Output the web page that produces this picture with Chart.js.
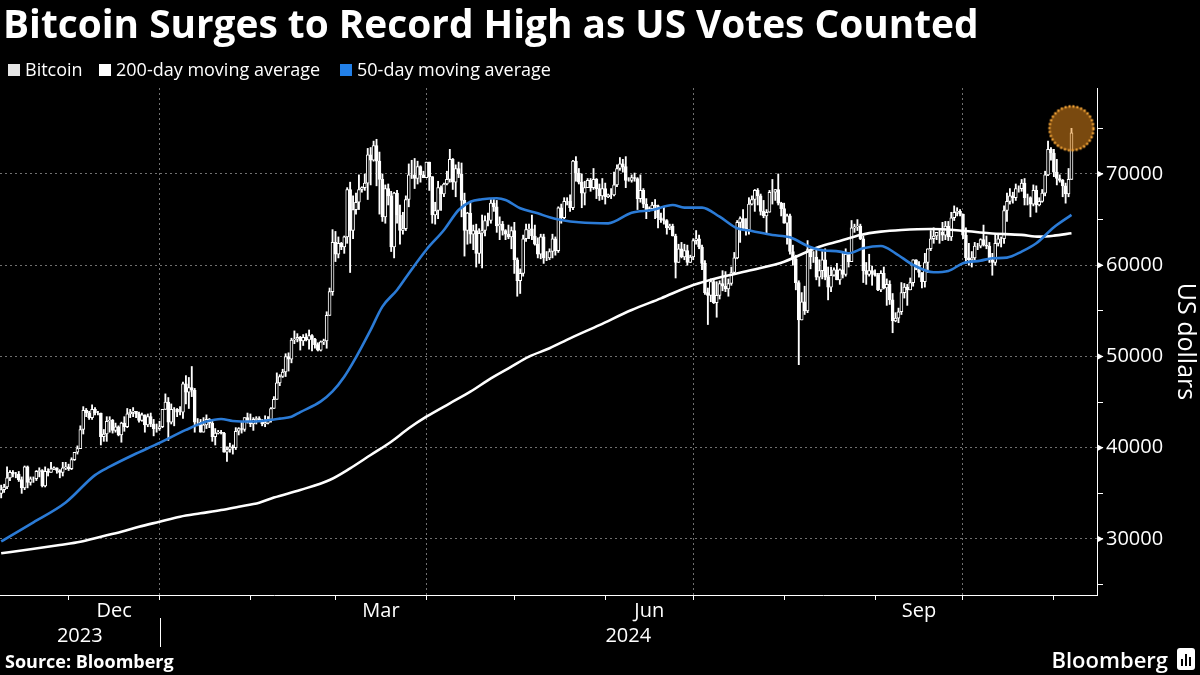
<!DOCTYPE html>
<html>
<head>
<meta charset="utf-8">
<title>Bitcoin Surges to Record High as US Votes Counted</title>
<script src="https://cdn.jsdelivr.net/npm/chart.js@4.4.1/dist/chart.umd.min.js"></script>
<style>
  html, body { margin:0; padding:0; background:#000; }
  #frame { position:relative; width:1200px; height:675px; background:#000; overflow:hidden; color:#fff;
           font-family:"Open Sans","Noto Sans",sans-serif; }
  #c { position:absolute; left:0; top:0; }
  #title { position:absolute; left:3px; top:4px; font-weight:700; font-size:38.8px; line-height:1; white-space:nowrap; }
  .lg { position:absolute; top:60px; font-size:18px; line-height:1; white-space:nowrap; display:flex; align-items:center; }
  .sw { display:inline-block; width:12px; height:12px; margin-right:5px; position:relative; top:1px; }
  #source { position:absolute; left:5px; top:652px; font-weight:700; font-size:18px; line-height:1; white-space:nowrap; }
  #brand { position:absolute; right:5px; top:648px; display:flex; align-items:center; font-weight:600; font-size:22px; line-height:1; }
  #brand svg { margin-left:9px; }
</style>
</head>
<body>
<div id="frame">
  <canvas id="c" width="1200" height="675"></canvas>
  <div id="title">Bitcoin Surges to Record High as US Votes Counted</div>
  <div class="lg" style="left:8px"><span class="sw" style="background:#e6e6e6"></span>Bitcoin</div>
  <div class="lg" style="left:99px"><span class="sw" style="background:#ffffff"></span>200-day moving average</div>
  <div class="lg" style="left:340px"><span class="sw" style="background:#2280e8"></span>50-day moving average</div>
  <div id="source">Source: Bloomberg</div>
  <div id="brand">Bloomberg<svg width="18" height="22" viewBox="0 0 18 22"><rect x="0" y="0" width="18" height="22" rx="3" fill="#fff"/><rect x="4" y="11" width="2" height="7" fill="#000"/><rect x="8" y="6" width="2" height="12" fill="#000"/><rect x="12" y="9" width="2" height="9" fill="#000"/></svg></div>
</div>
<script>
// ---------------- DATA ----------------
// Daily Bitcoin candles, one per calendar day starting at this date (thousand US dollars)
const START_DATE = '2023-11-07';
const opens_k = [
  35.0,35.4,35.7,36.7,37.3,37.1,37.1,36.5,35.6,37.9,36.2,36.6,36.6,37.4,37.5,35.8,37.4,37.3,37.7,37.8,37.5,37.3,37.8,37.9,
  37.7,38.7,39.5,39.9,42.0,44.1,43.8,43.3,44.2,43.8,43.8,41.2,41.5,42.9,43.0,41.9,42.3,41.4,42.7,42.3,43.7,43.9,44.0,43.7,43.0,43.6,42.5,43.4,42.6,42.1,42.1,
  42.3,44.2,45.0,42.8,44.2,44.2,43.9,43.9,47.0,46.1,46.6,46.3,42.8,42.8,41.7,42.5,43.1,42.7,41.2,41.6,41.7,41.6,39.5,39.8,40.1,40.0,41.8,42.1,42.0,43.3,42.9,
  42.6,43.1,43.2,43.0,42.6,42.7,43.1,44.3,45.3,47.1,47.8,48.3,50.0,49.7,51.8,51.9,52.1,51.7,52.1,51.8,52.3,51.9,51.3,50.7,51.6,51.7,54.5,57.1,62.5,
  61.2,62.4,62.0,63.1,68.3,63.8,66.1,66.9,68.3,68.5,69.0,72.1,71.5,73.1,71.4,69.4,65.3,68.4,67.6,62.0,67.9,65.5,63.8,64.0,67.2,69.9,69.9,69.5,70.8,69.9,69.6,
  71.3,69.7,65.5,66.0,68.5,67.8,68.9,69.4,71.6,69.1,70.6,70.0,67.1,63.8,65.7,63.4,63.8,61.3,63.5,63.8,64.9,64.9,66.8,66.4,64.3,64.5,63.8,63.4,63.1,63.8,
  60.6,58.3,59.1,62.9,63.9,64.0,63.2,62.3,61.2,63.1,60.8,60.8,61.5,62.9,61.6,66.3,65.2,67.0,67.0,66.3,71.4,70.1,69.1,67.9,68.5,69.3,68.5,69.4,68.4,67.6,68.4,
  67.5,67.7,67.7,68.8,70.6,71.1,70.8,69.3,69.3,69.6,69.5,67.3,68.2,66.7,66.0,66.2,66.6,66.5,65.2,65.0,64.9,64.1,64.3,63.2,60.3,61.8,60.9,61.6,60.3,60.9,
  62.7,62.9,62.0,60.2,57.0,56.7,58.2,55.9,56.7,58.0,57.7,57.4,58.0,59.2,60.8,64.7,65.1,64.1,63.9,66.7,67.2,68.2,67.6,65.9,65.4,65.8,68.0,68.0,68.3,66.8,66.2,
  64.6,65.4,61.5,60.7,58.1,54.0,56.0,55.0,61.7,60.9,60.9,58.7,59.4,60.6,58.7,57.6,58.9,59.5,58.4,59.5,59.0,61.2,60.4,64.1,64.2,64.3,62.9,59.4,59.0,59.4,59.1,
  58.9,57.3,59.1,57.5,57.9,56.2,53.9,54.2,54.9,57.0,57.6,57.3,58.1,60.6,60.0,59.2,58.2,60.3,61.8,62.9,63.2,63.6,63.6,63.3,64.3,63.1,65.2,65.8,65.9,65.6,
  63.3,60.8,60.6,60.8,62.1,62.1,62.8,62.2,62.1,60.6,60.3,62.4,62.9,62.9,66.0,67.0,67.6,67.4,68.4,68.4,69.0,67.4,67.4,66.7,68.2,66.6,67.0,67.9,69.9,72.7,72.3,
  70.2,69.5,69.3,68.7,67.8,69.4
];
const highs_k = [
  35.9,36.0,37.9,37.5,37.5,37.3,37.4,36.8,38.0,38.0,36.8,36.8,37.5,37.8,37.6,37.9,37.7,38.4,37.9,37.8,37.6,38.4,38.4,38.2,
  38.9,39.5,40.2,42.4,44.5,44.3,44.0,44.7,44.4,44.0,43.8,42.0,43.4,43.4,43.1,42.7,42.4,42.8,43.4,44.3,44.2,44.4,44.0,43.9,43.8,43.6,43.7,43.8,43.1,42.6,42.9,
  44.2,45.9,45.5,44.8,44.4,44.3,44.5,47.2,47.9,47.7,48.9,46.5,43.2,43.1,43.3,43.6,43.2,42.9,42.1,41.9,41.9,41.7,40.1,40.5,40.3,42.2,42.2,42.8,43.3,43.8,43.7,
  43.3,43.4,43.4,43.1,43.5,43.4,44.4,45.6,48.2,48.0,48.6,50.3,50.4,52.0,52.8,52.5,52.2,52.4,52.5,52.9,52.4,52.0,51.5,51.7,51.9,54.9,57.5,63.9,63.7,
  63.1,62.5,63.2,68.5,69.1,67.6,67.9,69.9,68.6,70.0,72.8,72.9,73.6,73.8,72.4,70.0,68.8,68.9,68.1,68.0,68.2,66.6,65.8,67.6,71.1,71.5,71.7,71.4,70.9,70.3,71.3,
  71.3,69.7,66.9,69.2,68.7,69.0,70.3,72.7,71.7,71.0,71.3,71.2,67.9,65.8,66.9,64.4,64.5,64.0,65.5,65.4,65.7,67.2,67.2,67.1,65.3,64.8,63.9,64.4,64.2,64.7,
  60.8,59.6,63.3,64.5,64.5,65.5,64.4,63.0,63.4,63.4,61.5,61.8,63.4,63.1,66.4,66.7,67.4,67.4,67.7,71.5,71.9,70.6,70.0,69.2,69.5,69.5,70.6,69.5,68.9,69.5,69.0,
  67.8,68.4,70.2,71.0,71.8,71.6,71.9,69.6,69.9,70.1,69.6,69.9,68.4,67.3,66.4,66.9,67.2,66.6,65.7,66.4,65.0,64.5,64.5,63.4,62.3,62.5,62.3,62.2,61.1,62.9,
  63.8,63.3,62.2,60.5,57.5,58.5,58.4,58.2,58.3,59.4,59.3,58.5,59.8,61.4,64.9,65.3,66.1,65.1,67.4,67.6,68.3,68.4,67.8,67.1,66.1,68.2,69.4,68.3,70.0,66.9,66.8,
  65.6,65.6,62.2,61.1,58.3,57.0,57.7,62.7,61.8,61.5,61.8,60.6,61.5,61.8,59.8,59.8,59.7,60.2,59.6,61.4,61.8,61.4,64.9,64.5,65.0,64.5,63.2,60.3,61.2,59.9,59.5,
  59.1,59.4,59.8,58.5,58.3,56.9,54.8,55.3,58.1,58.0,57.9,58.6,60.6,60.6,60.4,59.2,61.3,61.8,63.8,64.1,63.6,64.0,64.7,64.8,64.8,65.8,66.5,66.3,66.1,65.6,
  64.1,62.4,61.5,62.5,62.4,62.9,64.4,63.2,62.5,61.3,63.4,63.4,63.1,66.5,67.9,68.4,68.0,68.9,68.7,69.4,69.5,67.8,67.5,68.8,68.7,67.4,68.3,70.3,73.6,72.9,72.7,
  71.6,69.9,69.4,69.0,70.6,75.0
];
const lows_k = [
  34.5,35.1,35.5,36.4,36.8,36.7,36.3,35.0,35.4,35.6,35.9,36.2,36.4,36.8,35.7,35.7,36.9,37.3,37.6,37.2,36.7,36.9,37.6,37.5,
  37.6,38.6,39.3,39.9,41.5,43.4,43.1,43.1,43.6,43.6,40.3,40.7,40.7,41.7,41.6,41.7,41.3,40.6,41.8,42.2,43.3,43.4,43.3,42.8,42.9,41.7,42.3,42.3,41.3,41.7,41.9,
  42.2,44.2,40.8,42.6,42.4,43.4,43.6,43.2,44.8,44.3,45.6,41.7,42.4,41.7,41.7,42.1,42.2,40.7,40.3,41.5,41.5,39.5,38.5,39.5,39.3,39.8,41.4,41.6,41.8,42.7,42.3,
  41.9,42.6,42.9,42.4,42.3,42.6,42.8,44.3,45.3,46.8,47.7,47.8,48.4,49.3,51.4,51.6,50.7,51.2,51.7,50.8,50.6,50.9,50.6,50.6,51.3,50.9,54.5,56.7,60.4,
  60.8,61.7,61.3,62.4,59.2,62.9,65.6,66.1,68.0,68.2,67.2,68.8,71.4,68.7,65.6,64.8,64.6,66.6,61.5,60.8,64.6,62.3,63.4,63.8,66.4,69.5,68.4,68.9,69.1,69.6,69.6,
  68.2,64.6,64.5,65.1,66.0,67.5,68.8,69.1,68.3,67.5,69.6,65.3,61.0,62.3,62.4,61.7,59.8,60.2,59.7,63.2,64.3,64.6,65.9,63.6,62.8,63.3,62.8,62.9,61.8,59.1,
  56.6,56.9,58.8,62.6,62.9,62.8,62.2,60.8,60.7,60.2,60.5,60.6,60.8,61.1,61.4,64.6,65.1,66.6,65.9,66.1,69.2,68.9,66.3,66.6,68.5,68.1,68.3,67.3,67.1,67.2,66.7,
  67.4,67.3,67.6,68.6,70.4,70.2,68.5,69.2,69.1,69.2,66.1,66.9,66.3,65.1,65.9,66.0,65.1,64.1,64.7,64.5,63.4,63.9,63.2,58.6,60.3,60.8,60.6,60.0,60.3,60.6,
  62.3,61.8,59.5,56.8,53.5,56.0,55.8,54.3,56.3,57.2,57.1,56.6,57.8,59.1,60.7,62.5,64.0,63.3,63.4,66.6,65.9,66.6,65.5,65.2,63.5,65.8,66.7,67.1,66.6,65.4,64.6,
  62.3,61.2,60.0,57.3,49.1,54.0,54.6,54.8,59.6,60.3,58.4,57.7,58.5,58.4,56.2,57.1,58.8,58.4,57.9,58.6,58.8,59.8,60.4,63.6,63.8,62.8,58.1,57.9,58.8,57.8,58.8,
  57.2,57.1,57.4,55.6,55.7,52.6,53.8,53.7,54.6,56.4,55.6,57.3,57.7,59.5,58.7,57.5,57.6,59.2,61.6,62.4,62.8,62.4,62.7,62.8,62.7,62.7,64.9,65.4,65.4,62.9,
  60.2,60.0,59.8,60.5,61.7,61.9,62.1,61.8,60.3,58.9,60.0,62.1,62.0,62.4,64.8,66.7,66.8,67.1,68.0,68.1,66.6,66.6,65.3,66.5,65.8,66.5,66.9,67.6,69.8,71.5,69.7,
  68.8,69.1,67.5,66.8,67.5,69.4
];
const closes_k = [
  35.4,35.7,36.7,37.3,37.1,37.1,36.5,35.6,37.9,36.2,36.6,36.6,37.4,37.5,35.8,37.4,37.3,37.7,37.8,37.5,37.3,37.8,37.9,37.7,
  38.7,39.5,39.9,42.0,44.1,43.8,43.3,44.2,43.8,43.8,41.2,41.5,42.9,43.0,41.9,42.3,41.4,42.7,42.3,43.7,43.9,44.0,43.7,43.0,43.6,42.5,43.4,42.6,42.1,42.1,42.3,
  44.2,45.0,42.8,44.2,44.2,43.9,43.9,47.0,46.1,46.6,46.3,42.8,42.8,41.7,42.5,43.1,42.7,41.2,41.6,41.7,41.6,39.5,39.8,40.1,40.0,41.8,42.1,42.0,43.3,42.9,42.6,
  43.1,43.2,43.0,42.6,42.7,43.1,44.3,45.3,47.1,47.8,48.3,50.0,49.7,51.8,51.9,52.1,51.7,52.1,51.8,52.3,51.9,51.3,50.7,51.6,51.7,54.5,57.1,62.5,61.2,
  62.4,62.0,63.1,68.3,63.8,66.1,66.9,68.3,68.5,69.0,72.1,71.5,73.1,71.4,69.4,65.3,68.4,67.6,62.0,67.9,65.5,63.8,64.0,67.2,69.9,69.9,69.5,70.8,69.9,69.6,71.3,
  69.7,65.5,66.0,68.5,67.8,68.9,69.4,71.6,69.1,70.6,70.0,67.1,63.8,65.7,63.4,63.8,61.3,63.5,63.8,64.9,64.9,66.8,66.4,64.3,64.5,63.8,63.4,63.1,63.8,60.6,
  58.3,59.1,62.9,63.9,64.0,63.2,62.3,61.2,63.1,60.8,60.8,61.5,62.9,61.6,66.3,65.2,67.0,67.0,66.3,71.4,70.1,69.1,67.9,68.5,69.3,68.5,69.4,68.4,67.6,68.4,67.5,
  67.7,67.7,68.8,70.6,71.1,70.8,69.3,69.3,69.6,69.5,67.3,68.2,66.7,66.0,66.2,66.6,66.5,65.2,65.0,64.9,64.1,64.3,63.2,60.3,61.8,60.9,61.6,60.3,60.9,62.7,
  62.9,62.0,60.2,57.0,56.7,58.2,55.9,56.7,58.0,57.7,57.4,58.0,59.2,60.8,64.7,65.1,64.1,63.9,66.7,67.2,68.2,67.6,65.9,65.4,65.8,68.0,68.0,68.3,66.8,66.2,64.6,
  65.4,61.5,60.7,58.1,54.0,56.0,55.0,61.7,60.9,60.9,58.7,59.4,60.6,58.7,57.6,58.9,59.5,58.4,59.5,59.0,61.2,60.4,64.1,64.2,64.3,62.9,59.4,59.0,59.4,59.1,58.9,
  57.3,59.1,57.5,57.9,56.2,53.9,54.2,54.9,57.0,57.6,57.3,58.1,60.6,60.0,59.2,58.2,60.3,61.8,62.9,63.2,63.6,63.6,63.3,64.3,63.1,65.2,65.8,65.9,65.6,63.3,
  60.8,60.6,60.8,62.1,62.1,62.8,62.2,62.1,60.6,60.3,62.4,62.9,62.9,66.0,67.0,67.6,67.4,68.4,68.4,69.0,67.4,67.4,66.7,68.2,66.6,67.0,67.9,69.9,72.7,72.3,70.2,
  69.5,69.3,68.7,67.8,69.4,74.5
];

// 200-day moving average (US dollars)
const ma200Dates = ['2023-11-07','2023-11-17','2023-11-27','2023-12-04','2023-12-11','2023-12-18','2023-12-24','2023-12-31',
  '2024-01-07','2024-01-14','2024-01-21','2024-01-27','2024-02-03','2024-02-08','2024-02-17','2024-02-27','2024-03-05','2024-03-12',
  '2024-03-19','2024-03-25','2024-03-31','2024-04-08','2024-04-15','2024-04-22','2024-04-29','2024-05-05','2024-05-12','2024-05-19',
  '2024-05-29','2024-06-09','2024-06-19','2024-06-30','2024-07-10','2024-07-20','2024-07-31','2024-08-12','2024-08-19','2024-08-26',
  '2024-09-02','2024-09-09','2024-09-19','2024-09-30','2024-10-09','2024-10-20','2024-10-26','2024-10-31','2024-11-06'];
const ma200Values = [28430,28870,29340,29700,30250,30800,31340,31890,
  32440,32810,33170,33540,33980,34540,35370,36460,37740,39200,
  40660,42130,43400,44870,46140,47600,48880,49980,50900,51990,
  53440,55090,56370,57830,58740,59480,60390,62030,62660,63320,
  63680,63860,63970,63780,63500,63320,63130,63240,63500];

// 50-day moving average (US dollars)
const ma50Dates = ['2023-11-07','2023-11-18','2023-11-29','2023-12-09','2023-12-14','2023-12-22','2023-12-31','2024-01-09',
  '2024-01-16','2024-01-21','2024-01-25','2024-02-01','2024-02-06','2024-02-10','2024-02-14','2024-02-17','2024-02-24','2024-02-28',
  '2024-03-03','2024-03-07','2024-03-12','2024-03-16','2024-03-21','2024-03-25','2024-03-31','2024-04-06','2024-04-11','2024-04-15',
  '2024-04-19','2024-04-24','2024-04-27','2024-05-02','2024-05-08','2024-05-12','2024-05-16','2024-05-22','2024-06-01','2024-06-09',
  '2024-06-16','2024-06-23','2024-06-27','2024-07-03','2024-07-09','2024-07-15','2024-07-20','2024-07-27','2024-08-02','2024-08-08',
  '2024-08-12','2024-08-19','2024-08-22','2024-08-27','2024-09-02','2024-09-07','2024-09-13','2024-09-20','2024-09-25','2024-09-30',
  '2024-10-06','2024-10-10','2024-10-15','2024-10-20','2024-10-25','2024-10-31','2024-11-06'];
const ma50Values = [29740,31830,34000,37000,37920,39200,40530,41950,
  42860,43140,42930,42870,43010,43190,43400,43900,45080,46170,
  47780,49900,52910,55460,57290,59100,61700,63860,66050,66960,
  67220,67330,67150,66240,65690,65250,64960,64700,64590,65760,
  66050,66600,66310,66310,65320,64050,63750,63310,63060,62110,
  61700,61490,61310,61860,62110,61310,60030,59230,59370,60210,
  60500,60760,60830,61490,62400,64160,65510];

// Axis labels
const monthTickDates = ['2023-12-01','2024-01-01','2024-02-01','2024-03-01','2024-04-01','2024-05-01','2024-06-01',
  '2024-07-01','2024-08-01','2024-09-01','2024-10-01','2024-11-01'];
const quarterGridDates = ['2024-01-01','2024-04-01','2024-07-01','2024-10-01'];
const monthLabels = ['Dec','Mar','Jun','Sep'];
const monthLabelStarts = ['2023-12-01','2024-03-01','2024-06-01','2024-09-01'];
const yearLabels = ['2023','2024'];
const yTickValues = [25000,30000,35000,40000,45000,50000,55000,60000,65000,70000,75000];
const yLabelledValues = [30000,40000,50000,60000,70000];

// ---------------- HELPERS ----------------
const DAY_MS = 86400000;
const EPOCH = Date.UTC(2024, 0, 1);
const toMs = iso => Date.parse(iso + 'T00:00:00Z');
const dayNum = iso => (toMs(iso) - EPOCH) / DAY_MS;
const addDays = (iso, n) => new Date(toMs(iso) + n * DAY_MS).toISOString().slice(0, 10);
const nextMonth = iso => { const d = new Date(toMs(iso)); d.setUTCMonth(d.getUTCMonth() + 1); return d.toISOString().slice(0, 10); };
const atClose = iso => dayNum(iso) + 1;   // each daily bar is stamped at that day's close

const candleDates = closes_k.map((_, i) => addDays(START_DATE, i));
const X_MIN = dayNum('2023-11-07') + 0.6;
const X_MAX = dayNum('2024-11-15') + 0.7;
const Y_MIN = 23860, Y_MAX = 79420;

const monthTickDays = monthTickDates.map(dayNum);
const quarterDays = quarterGridDates.map(dayNum);
const monthLabelDays = monthLabelStarts.map(m => (dayNum(m) + dayNum(nextMonth(m))) / 2);
const yearLabelDays = [(X_MIN + dayNum('2024-01-01')) / 2, (dayNum('2024-01-01') + X_MAX) / 2];

const wickData = candleDates.map((d, i) => ({ x: atClose(d), y: [lows_k[i] * 1000, highs_k[i] * 1000] }));
const bodyData = candleDates.map((d, i) => ({ x: atClose(d), y: [opens_k[i] * 1000, closes_k[i] * 1000] }));
const bodyFill = candleDates.map((_, i) => closes_k[i] >= opens_k[i] ? '#000000' : '#ffffff');
const ma200Data = ma200Dates.map((d, i) => ({ x: atClose(d), y: ma200Values[i] }));
const ma50Data = ma50Dates.map((d, i) => ({ x: atClose(d), y: ma50Values[i] }));
const last = closes_k.length - 1;
const highlightData = [{ x: atClose(candleDates[last]), y: highs_k[last] * 1000 }];

function makeMarker() {
  const c = document.createElement('canvas');
  c.width = 50; c.height = 50;
  const g = c.getContext('2d');
  g.beginPath(); g.arc(25, 25, 22.5, 0, Math.PI * 2);
  g.fillStyle = 'rgba(232,140,28,0.52)'; g.fill();
  g.setLineDash([2, 2]); g.lineWidth = 2.4; g.strokeStyle = '#f7a83a';
  g.beginPath(); g.arc(25, 25, 22, 0, Math.PI * 2); g.stroke();
  return c;
}

const GRID = 'rgba(150,150,150,0.75)';
const CLEAR = 'rgba(0,0,0,0)';
const noSidePadding = s => { s.paddingLeft = 0; s.paddingRight = 0; };

const axisDecor = {
  id: 'axisDecor',
  afterDraw(chart) {
    const { ctx, scales } = chart;
    const y = scales.y, x = scales.x, xy = scales.xy;
    ctx.save();
    ctx.fillStyle = '#ffffff';
    for (const v of yLabelledValues) {
      const py = y.getPixelForValue(v);
      ctx.beginPath();
      ctx.moveTo(y.left, py - 3.5); ctx.lineTo(y.left + 6.5, py); ctx.lineTo(y.left, py + 3.5);
      ctx.closePath(); ctx.fill();
    }
    const sx = Math.round(x.getPixelForValue(dayNum('2024-01-01'))) + 0.5;
    ctx.strokeStyle = '#ffffff'; ctx.lineWidth = 1;
    ctx.beginPath(); ctx.moveTo(sx, xy.top - 6); ctx.lineTo(sx, xy.bottom - 3); ctx.stroke();
    ctx.restore();
  }
};

Chart.defaults.font.family = '"Open Sans", "Noto Sans", sans-serif';
Chart.defaults.color = '#ffffff';

new Chart(document.getElementById('c'), {
  type: 'bar',
  data: {
    datasets: [
      { label: 'Bitcoin wick', data: wickData, backgroundColor: '#ffffff', borderWidth: 0,
        barThickness: 1.2, grouped: false, order: 5 },
      { label: 'Bitcoin', data: bodyData, backgroundColor: bodyFill, borderColor: '#ffffff', borderWidth: 1,
        borderSkipped: false, barThickness: 3, grouped: false, order: 4 },
      { type: 'line', label: '200-day moving average', data: ma200Data, borderColor: '#ffffff', borderWidth: 2.6,
        pointRadius: 0, cubicInterpolationMode: 'monotone', order: 3 },
      { type: 'line', label: '50-day moving average', data: ma50Data, borderColor: '#2b7bd6', borderWidth: 2.6,
        pointRadius: 0, cubicInterpolationMode: 'monotone', order: 2 },
      { type: 'line', label: 'Record high', data: highlightData, showLine: false, pointStyle: makeMarker(),
        pointRadius: 23, pointHoverRadius: 23, order: 1 }
    ]
  },
  options: {
    responsive: false, animation: false, devicePixelRatio: 1, events: [],
    layout: { autoPadding: false, padding: { top: 88, bottom: 25, left: 0, right: 0 } },
    plugins: { legend: { display: false }, tooltip: { enabled: false }, title: { display: false } },
    scales: {
      x: {
        type: 'linear', position: 'bottom', min: X_MIN, max: X_MAX, offset: false, weight: 0,
        afterBuildTicks: s => { s.ticks = monthTickDays.map(v => ({ value: v })); },
        afterFit: s => { s.height = 5; noSidePadding(s); },
        ticks: { display: false, autoSkip: false },
        grid: { offset: false, drawOnChartArea: true, lineWidth: 1,
                color: c => (c.tick && quarterDays.includes(c.tick.value)) ? GRID : CLEAR,
                drawTicks: true, tickLength: 5, tickColor: '#ffffff', tickWidth: 1, tickBorderDash: [] },
        border: { display: true, color: '#ffffff', width: 1, dash: [2, 3] }
      },
      xm: {
        type: 'linear', position: 'bottom', min: X_MIN, max: X_MAX, offset: false, weight: 1,
        afterBuildTicks: s => { s.ticks = monthLabelDays.map(v => ({ value: v })); },
        afterFit: s => { s.height = 24; noSidePadding(s); },
        ticks: { autoSkip: false, maxRotation: 0, minRotation: 0, padding: 1, color: '#ffffff',
                 font: { size: 20, lineHeight: 1 }, callback: (v, i) => monthLabels[i] },
        grid: { display: false, drawTicks: false, offset: false }, border: { display: false }
      },
      xy: {
        type: 'linear', position: 'bottom', min: X_MIN, max: X_MAX, offset: false, weight: 2,
        afterBuildTicks: s => { s.ticks = yearLabelDays.map(v => ({ value: v })); },
        afterFit: s => { s.height = 26; noSidePadding(s); },
        ticks: { autoSkip: false, maxRotation: 0, minRotation: 0, padding: 2, color: '#ffffff',
                 font: { size: 20, lineHeight: 1 }, callback: (v, i) => yearLabels[i] },
        grid: { display: false, drawTicks: false, offset: false }, border: { display: false }
      },
      y: {
        type: 'linear', position: 'right', min: Y_MIN, max: Y_MAX,
        afterBuildTicks: s => { s.ticks = yTickValues.map(v => ({ value: v })); },
        afterFit: s => { s.width = 103; s.paddingTop = 0; s.paddingBottom = 0; },
        ticks: { autoSkip: false, padding: 3, color: '#ffffff', font: { size: 20 },
                 callback: v => yLabelledValues.includes(v) ? String(v) : '' },
        grid: { drawOnChartArea: true, lineWidth: 1,
                color: c => (c.tick && yLabelledValues.includes(c.tick.value)) ? GRID : CLEAR,
                drawTicks: true, tickLength: 6, tickColor: '#ffffff', tickWidth: 1, tickBorderDash: [] },
        border: { display: true, color: '#ffffff', width: 1, dash: [2, 3] },
        title: { display: true, text: 'US dollars', color: '#ffffff', font: { size: 25, lineHeight: 1.2 }, padding: 0 }
      }
    }
  },
  plugins: [axisDecor]
});
</script>
</body>
</html>
